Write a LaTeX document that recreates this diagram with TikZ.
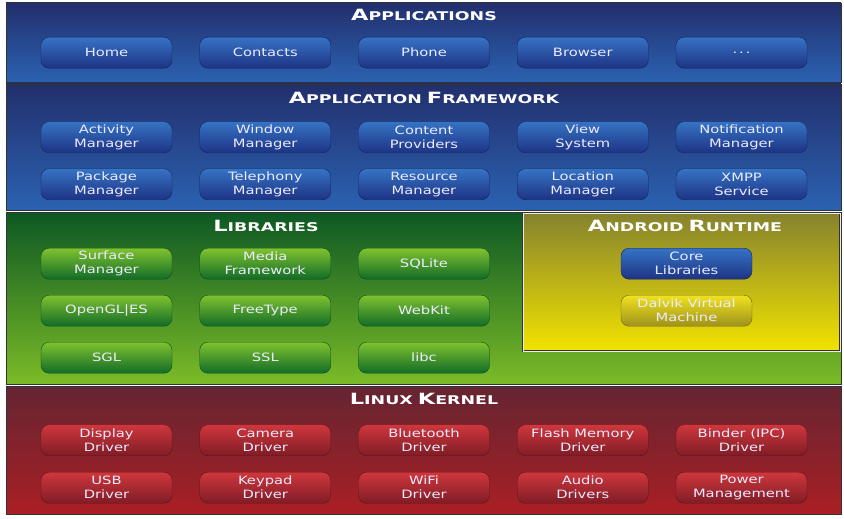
\documentclass[tikz,border=0pt]{standalone}
\usepackage{fontspec}
\setmainfont{DejaVu Sans}[FakeStretch=1.28]
\newfontfamily\titlefont{DejaVu Sans Bold}[FakeStretch=1.45]
\usetikzlibrary{positioning}
\definecolor{appsTop}{HTML}{222F6C}
\definecolor{appsBot}{HTML}{2B62B2}
\definecolor{libsTop}{HTML}{0C5823}
\definecolor{libsBot}{HTML}{7BBB27}
\definecolor{artTop}{HTML}{86822E}
\definecolor{artBot}{HTML}{F2E300}
\definecolor{kernTop}{HTML}{642532}
\definecolor{kernBot}{HTML}{AA1F24}
\definecolor{blueTop}{HTML}{3673C4}
\definecolor{blueBot}{HTML}{1E3384}
\definecolor{greenTop}{HTML}{80C22F}
\definecolor{greenBot}{HTML}{116C27}
\definecolor{yellowTop}{HTML}{F0E21E}
\definecolor{yellowBot}{HTML}{9E921E}
\definecolor{redTop}{HTML}{CF373C}
\definecolor{redBot}{HTML}{801C26}
\newcommand{\capword}[2]{{\fontsize{15.5}{16}\selectfont #1}{\fontsize{12}{14}\selectfont #2}}

\tikzset{
    layer/.style={draw=black!80, line width=0.9pt},
    btn/.style={rounded corners=8pt, minimum width=131pt, minimum height=31pt,
        inner sep=0pt, align=center, text=white!92!blue, yshift=-0.7pt,
        font=\fontsize{11.5}{14}\selectfont},
    bluebtn/.style={btn, top color=blueTop, bottom color=blueBot, draw=blueBot!70!black, line width=0.4pt},
    greenbtn/.style={btn, top color=greenTop, bottom color=greenBot, draw=greenBot!70!black, line width=0.4pt},
    yellowbtn/.style={btn, top color=yellowTop, bottom color=yellowBot, draw=yellowBot!70!black, line width=0.4pt},
    redbtn/.style={btn, top color=redTop, bottom color=redBot, draw=redBot!70!black, line width=0.4pt},
    title/.style={anchor=base, text=white, font=\titlefont, inner sep=0pt}
}

\begin{document}
\begin{tikzpicture}[x=1pt, y=-1pt]
    % Page
    \fill[white] (0,0) rectangle (844,519);
    \useasboundingbox (0,0) rectangle (844,519);

    % Applications
    \shade[layer, top color=appsTop, bottom color=appsBot] (6,3) rectangle (841,82);
    \node[title] (appsTitle) at (424,21) {\capword{A}{PPLICATIONS}};
    \foreach \x/\n/\label in {106.5/1/Home, 265.25/2/Contacts, 424/3/Phone, 582.75/4/Browser, 741.5/5/{.\,.\,.}} {
        \node[bluebtn] (app\n) at (\x,52) {\label};
    }

    % Application framework
    \shade[layer, top color=appsTop, bottom color=appsBot] (6,84) rectangle (841,210);
    \node[title] (fwTitle) at (424,103) {\capword{A}{PPLICATION} \capword{F}{RAMEWORK}};
    \foreach \x/\n/\label in {106.5/1/{Activity\\Manager}, 265.25/2/{Window\\Manager}, 424/3/{Content\\Providers},
                              582.75/4/{View\\System}, 741.5/5/{Notification\\Manager}} {
        \node[bluebtn] (fwa\n) at (\x,136.5) {\label};
    }
    \foreach \x/\n/\label in {106.5/1/{Package\\Manager}, 265.25/2/{Telephony\\Manager}, 424/3/{Resource\\Manager},
                              582.75/4/{Location\\Manager}, 741.5/5/{XMPP\\Service}} {
        \node[bluebtn] (fwb\n) at (\x,183.5) {\label};
    }

    % Libraries
    \shade[layer, top color=libsTop, bottom color=libsBot] (6,212) rectangle (841,384);
    \node[title] (libTitle) at (266,231) {\capword{L}{IBRARIES}};
    \foreach \x/\n/\label in {106.5/1/{Surface\\Manager}, 265.25/2/{Media\\Framework}, 424/3/SQLite} {
        \node[greenbtn] (liba\n) at (\x,263) {\label};
    }
    \foreach \x/\n/\label in {106.5/1/OpenGL|ES, 265.25/2/FreeType, 424/3/WebKit} {
        \node[greenbtn] (libb\n) at (\x,310) {\label};
    }
    \foreach \x/\n/\label in {106.5/1/SGL, 265.25/2/SSL, 424/3/libc} {
        \node[greenbtn] (libc\n) at (\x,357) {\label};
    }

    % Android runtime
    \shade[draw=black!80, line width=0.8pt, double=white!85!gray, double distance=0.9pt,
        top color=artTop, bottom color=artBot] (523,213) rectangle (840,351);
    \node[title] (artTitle) at (685,231) {\capword{A}{NDROID} \capword{R}{UNTIME}};
    \node[bluebtn] (core) at (686.5,263) {Core\\Libraries};
    \node[yellowbtn] (dalvik) at (686.5,310) {Dalvik Virtual\\Machine};

    % Linux kernel
    \shade[layer, top color=kernTop, bottom color=kernBot] (6,386) rectangle (841,514);
    \node[title] (kernTitle) at (424,404) {\capword{L}{INUX} \capword{K}{ERNEL}};
    \foreach \x/\n/\label in {106.5/1/{Display\\Driver}, 265.25/2/{Camera\\Driver}, 424/3/{Bluetooth\\Driver},
                              582.75/4/{Flash Memory\\Driver}, 741.5/5/{Binder (IPC)\\Driver}} {
        \node[redbtn] (kera\n) at (\x,439.5) {\label};
    }
    \foreach \x/\n/\label in {106.5/1/{USB\\Driver}, 265.25/2/{Keypad\\Driver}, 424/3/{WiFi\\Driver},
                              582.75/4/{Audio\\Drivers}, 741.5/5/{Power\\Management}} {
        \node[redbtn] (kerb\n) at (\x,487) {\label};
    }
\end{tikzpicture}
\end{document}
